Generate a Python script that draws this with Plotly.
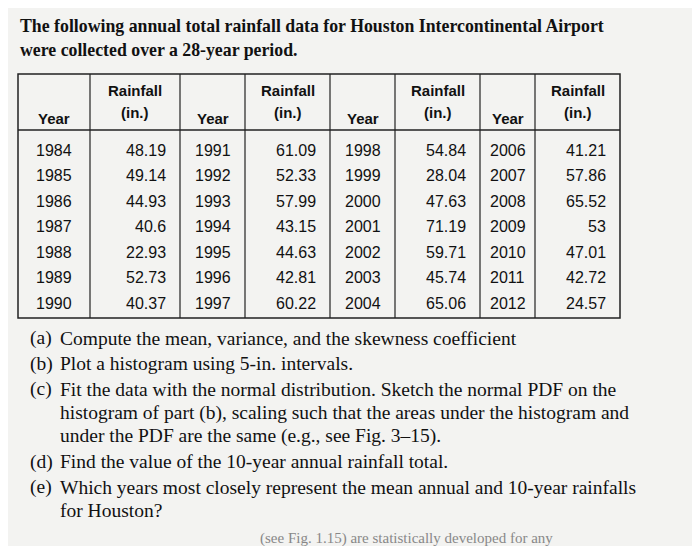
import plotly.graph_objects as go

# table data
years = [
    [1984, 1985, 1986, 1987, 1988, 1989, 1990],
    [1991, 1992, 1993, 1994, 1995, 1996, 1997],
    [1998, 1999, 2000, 2001, 2002, 2003, 2004],
    [2006, 2007, 2008, 2009, 2010, 2011, 2012],
]
rainfall = [
    ["48.19", "49.14", "44.93", "40.6", "22.93", "52.73", "40.37"],
    ["61.09", "52.33", "57.99", "43.15", "44.63", "42.81", "60.22"],
    ["54.84", "28.04", "47.63", "71.19", "59.71", "45.74", "65.06"],
    ["41.21", "57.86", "65.52", "53", "47.01", "42.72", "24.57"],
]
title_lines = [
    "The following annual total rainfall data for Houston Intercontinental Airport",
    "were collected over a 28-year period.",
]
questions = [
    ("(a)", ["Compute the mean, variance, and the skewness coefficient"]),
    ("(b)", ["Plot a histogram using 5-in. intervals."]),
    ("(c)", ["Fit the data with the normal distribution. Sketch the normal PDF on the",
             "histogram of part (b), scaling such that the areas under the histogram and",
             "under the PDF are the same (e.g., see Fig. 3–15)."]),
    ("(d)", ["Find the value of the 10-year annual rainfall total."]),
    ("(e)", ["Which years most closely represent the mean annual and 10-year rainfalls",
             "for Houston?"]),
]

edges = [10, 82, 172, 237, 322, 387, 472, 527, 612]
top, head_bot, bottom = 66, 122, 310
row0, step = 142, 25.5

fig = go.Figure()
shapes = [dict(type="rect", x0=edges[0], x1=edges[-1], y0=top, y1=bottom,
               line=dict(color="#222", width=1.5)),
          dict(type="line", x0=edges[0], x1=edges[-1], y0=head_bot, y1=head_bot,
               line=dict(color="#222", width=1.5))]
for e in edges[1:-1]:
    shapes.append(dict(type="line", x0=e, x1=e, y0=top, y1=bottom,
                       line=dict(color="#222", width=1.2)))

ann = []
sans = dict(family="Liberation Sans", size=15, color="#111")
serif = dict(family="Liberation Serif", size=19.5, color="#111")
for t, y in zip(title_lines, [18, 42]):
    ann.append(dict(x=10, y=y, text="<b>" + t + "</b>", xanchor="left", showarrow=False,
                    font=dict(family="Liberation Serif", size=17.8, color="#111")))
for b in range(4):
    xl, xm, xr = edges[2 * b], edges[2 * b + 1], edges[2 * b + 2]
    ann.append(dict(x=(xl + xm) / 2, y=110, text="<b>Year</b>", showarrow=False, font=sans))
    ann.append(dict(x=(xm + xr) / 2, y=82, text="<b>Rainfall</b>", showarrow=False, font=sans))
    ann.append(dict(x=(xm + xr) / 2, y=104, text="<b>(in.)</b>", showarrow=False, font=sans))
    for r in range(7):
        y = row0 + r * step
        ann.append(dict(x=(xl + xm) / 2, y=y, text=str(years[b][r]), showarrow=False,
                        font=dict(family="Liberation Sans", size=16, color="#111")))
        ann.append(dict(x=xr - 12, y=y, text=rainfall[b][r], xanchor="right", showarrow=False,
                        font=dict(family="Liberation Sans", size=16, color="#111")))

y = 330
for lab, lines in questions:
    ann.append(dict(x=20, y=y, text=lab, xanchor="left", showarrow=False, font=serif))
    for ln in lines:
        ann.append(dict(x=50, y=y, text=ln, xanchor="left", showarrow=False, font=serif))
        y += 23.5
    y += 2
ann.append(dict(x=250, y=530, text="(see Fig. 1.15) are statistically developed for any",
                xanchor="left", showarrow=False,
                font=dict(family="Liberation Serif", size=15, color="#888")))

fig.update_layout(
    width=700, height=546, margin=dict(l=0, r=0, t=0, b=0),
    paper_bgcolor="#f3f3f1", plot_bgcolor="#f3f3f1",
    xaxis=dict(range=[0, 700], visible=False),
    yaxis=dict(range=[546, 0], visible=False),
    shapes=shapes, annotations=ann, showlegend=False,
)
fig.write_html("out.html")
